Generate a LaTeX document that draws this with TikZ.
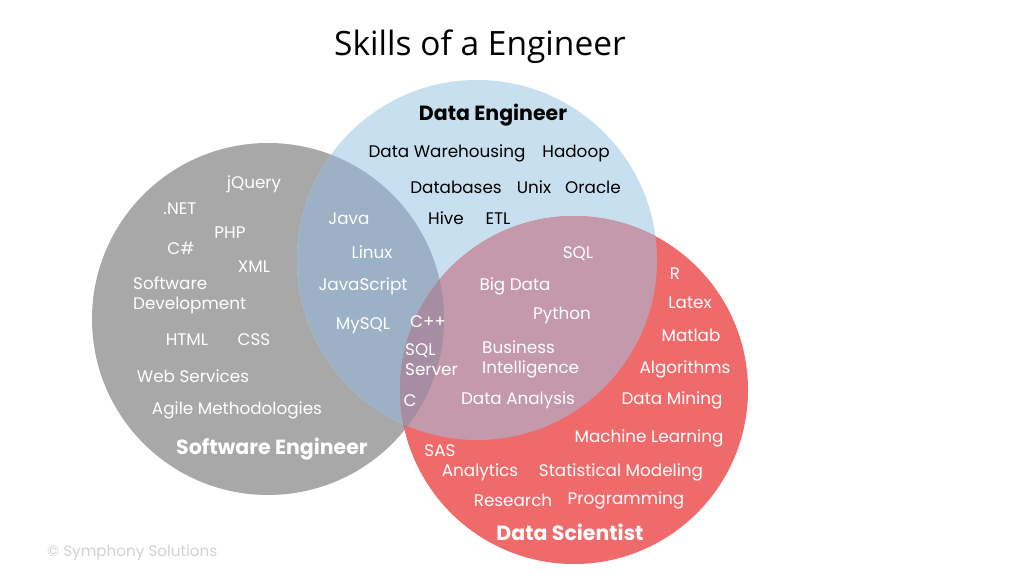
\documentclass[tikz,border=0pt]{standalone}
\usepackage{fontspec}
\setmainfont{Poppins}
\newfontfamily\titlefont{Open Sans}
\definecolor{cgray}{HTML}{A8A8A8}
\definecolor{cblue}{HTML}{C8DFEF}
\definecolor{cred}{HTML}{EF6B6B}
\definecolor{cgrayblue}{HTML}{9CB1C5}
\definecolor{cmauve}{HTML}{C499AB}
\definecolor{ctriple}{HTML}{A68DA2}
\definecolor{cgrayred}{HTML}{B67C82}
\definecolor{ccopy}{HTML}{D2D2D2}
\tikzset{
  lbl/.style={text=white, font=\fontsize{16.8}{20}\selectfont, inner sep=0pt, align=left, yshift=-2.5pt},
  lblk/.style={lbl, text=black},
  head/.style={text=white, font=\fontsize{20.5}{24}\selectfont\bfseries, inner sep=0pt, yshift=-2.5pt},
}
\begin{document}
\begin{tikzpicture}[x=1pt,y=-1pt]
\path[use as bounding box, fill=white] (0,0) rectangle (1024,585);
\coordinate (G) at (268,319);
\coordinate (B) at (477,260);
\coordinate (R) at (574,390);
\def\rg{176pt}\def\rb{180pt}\def\rr{174pt}
\fill[cgray] (G) circle[radius=\rg];
\fill[cblue] (B) circle[radius=\rb];
\fill[cred] (R) circle[radius=\rr];
\begin{scope}
  \clip (G) circle[radius=\rg];
  \fill[cgrayblue] (B) circle[radius=\rb];
  \fill[cgrayred] (R) circle[radius=\rr];
\end{scope}
\begin{scope}
  \clip (B) circle[radius=\rb];
  \fill[cmauve] (R) circle[radius=\rr];
  \clip (G) circle[radius=\rg];
  \fill[ctriple] (R) circle[radius=\rr];
\end{scope}

\node[font=\titlefont\fontsize{33.5}{38}\selectfont, inner sep=0pt, yshift=-2pt] (title) at (480,45) {Skills of a Engineer};

% Software engineer
\node[lbl] (jq) at (254,182) {jQuery};
\node[lbl] (net) at (180,206) {.NET};
\node[lbl] (php) at (230,230) {PHP};
\node[lbl] (cs) at (181,246) {C\#};
\node[lbl] (xml) at (254,264) {XML};
\node[lbl, anchor=west] (sd) at (133,293) {Software\\Development};
\node[lbl] (html) at (187,337) {HTML};
\node[lbl] (css) at (254,337) {CSS};
\node[lbl] (ws) at (193,374) {Web Services};
\node[lbl] (agile) at (237,408) {Agile Methodologies};
\node[head] (seh) at (272,447) {Software Engineer};

% gray-blue
\node[lbl] (java) at (349,216) {Java};
\node[lbl] (linux) at (372,250) {Linux};
\node[lbl] (js) at (363,284) {JavaScript};
\node[lbl] (mysql) at (363,323) {MySQL};

% Data engineer
\node[head, text=black] (deh) at (493,113) {Data Engineer};
\node[lblk] (dw) at (447,151) {Data Warehousing};
\node[lblk] (hadoop) at (576,151) {Hadoop};
\node[lblk] (db) at (456,185) {Databases};
\node[lblk] (unix) at (534,185) {Unix};
\node[lblk] (oracle) at (593,185) {Oracle};
\node[lblk] (hive) at (446,216) {Hive};
\node[lblk] (etl) at (498,216) {ETL};

% blue-red
\node[lbl] (sql) at (578,251) {SQL};
\node[lbl] (bd) at (515,284) {Big Data};
\node[lbl] (py) at (562,313) {Python};
\node[lbl, anchor=west] (bi) at (482,357) {Business\\Intelligence};
\node[lbl] (da) at (518,398) {Data Analysis};

% triple
\node[lbl] (cpp) at (428,319) {C++};
\node[lbl, anchor=west] (sqls) at (405,357) {SQL\\Server};
\node[lbl] (c) at (410,398) {C};

% Data scientist
\node[lbl] (r) at (675,271) {R};
\node[lbl] (latex) at (690,300) {Latex};
\node[lbl] (matlab) at (691,333) {Matlab};
\node[lbl] (algo) at (685,367) {Algorithms};
\node[lbl] (dm) at (672,398) {Data Mining};
\node[lbl] (ml) at (649,436) {Machine Learning};
\node[lbl] (sas) at (440,448) {SAS};
\node[lbl] (an) at (480,470) {Analytics};
\node[lbl] (stat) at (621,470) {Statistical Modeling};
\node[lbl] (res) at (513,498) {Research};
\node[lbl] (prog) at (626,498) {Programming};
\node[head] (dsh) at (570,530) {Data Scientist};

\node[anchor=west, text=ccopy, font=\fontsize{15.2}{18}\selectfont, inner sep=0pt, yshift=-2pt] (copy) at (47,551) {© Symphony Solutions};
\end{tikzpicture}
\end{document}
